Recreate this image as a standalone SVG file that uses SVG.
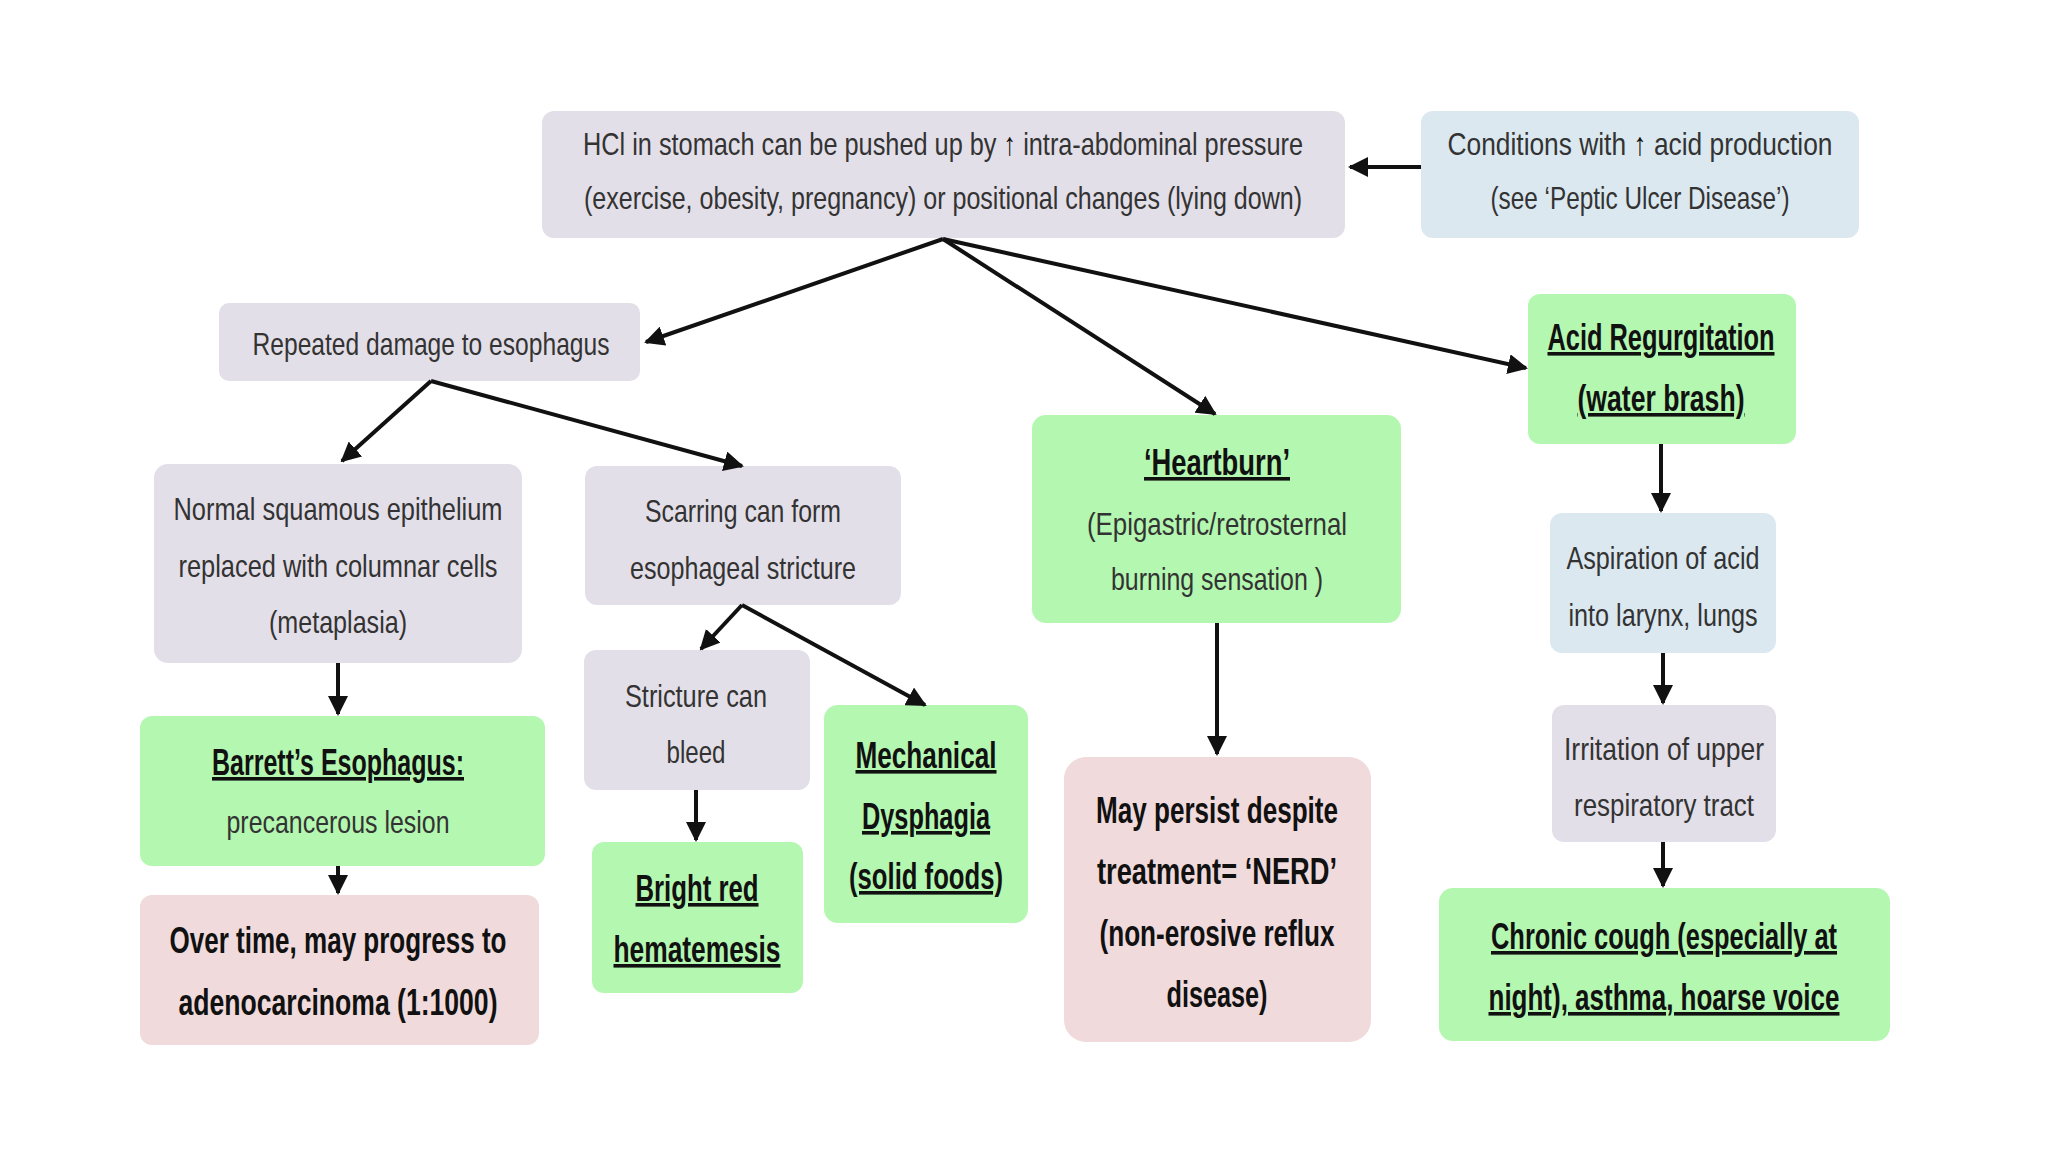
<svg xmlns="http://www.w3.org/2000/svg" width="2048" height="1152" viewBox="0 0 2048 1152">
<defs>
<marker id="ah" viewBox="0 0 10 10" refX="9" refY="5" markerWidth="5" markerHeight="5" orient="auto-start-reverse"><path d="M0,0 L10,5 L0,10 z" fill="#111"/></marker>
</defs>
<style>
.lav{fill:#e3dfe8}.blue{fill:#dbe8f0}.green{fill:#b4f7b0}.pink{fill:#f0dadb}
text{font-family:"Liberation Sans",Arial,sans-serif;text-anchor:middle;fill:#333;font-size:32px}
.b{font-weight:bold;fill:#111;font-size:36px}
.u{text-decoration:underline}
.c line{stroke:#111;stroke-width:4;marker-end:url(#ah)}
</style>
<rect width="2048" height="1152" fill="#fff"/>
<g id="hcl"><rect class="lav" x="542" y="111" width="803" height="127" rx="12"/>
<text x="943" y="155" textLength="720" lengthAdjust="spacingAndGlyphs">HCl in stomach can be pushed up by <tspan font-weight="bold" fill="#111">↑</tspan> intra-abdominal pressure</text>
<text x="943" y="209" textLength="718" lengthAdjust="spacingAndGlyphs">(exercise, obesity, pregnancy) or positional changes (lying down)</text></g>
<g id="cond"><rect class="blue" x="1421" y="111" width="438" height="127" rx="12"/>
<text x="1640" y="155" textLength="385" lengthAdjust="spacingAndGlyphs">Conditions with <tspan font-weight="bold" fill="#111">↑</tspan> acid production</text>
<text x="1640" y="209" textLength="299" lengthAdjust="spacingAndGlyphs">(see ‘Peptic Ulcer Disease’)</text></g>
<g id="rep"><rect class="lav" x="219" y="303" width="421" height="78" rx="10"/>
<text x="431" y="355" textLength="357" lengthAdjust="spacingAndGlyphs">Repeated damage to esophagus</text></g>
<g id="acid"><rect class="green" x="1528" y="294" width="268" height="150" rx="12"/>
<text class="b u" x="1661" y="350" textLength="227" lengthAdjust="spacingAndGlyphs">Acid Regurgitation</text>
<text class="b u" x="1661" y="411" textLength="167" lengthAdjust="spacingAndGlyphs">(water brash)</text></g>
<g id="heart"><rect class="green" x="1032" y="415" width="369" height="208" rx="14"/>
<text class="b u" x="1217" y="475" textLength="146" lengthAdjust="spacingAndGlyphs">‘Heartburn’</text>
<text x="1217" y="535" textLength="260" lengthAdjust="spacingAndGlyphs">(Epigastric/retrosternal</text>
<text x="1217" y="590" textLength="212" lengthAdjust="spacingAndGlyphs">burning sensation )</text></g>
<g id="normal"><rect class="lav" x="154" y="464" width="368" height="199" rx="14"/>
<text x="338" y="520" textLength="329" lengthAdjust="spacingAndGlyphs">Normal squamous epithelium</text>
<text x="338" y="577" textLength="319" lengthAdjust="spacingAndGlyphs">replaced with columnar cells</text>
<text x="338" y="633" textLength="138" lengthAdjust="spacingAndGlyphs">(metaplasia)</text></g>
<g id="scar"><rect class="lav" x="585" y="466" width="316" height="139" rx="12"/>
<text x="743" y="522" textLength="196" lengthAdjust="spacingAndGlyphs">Scarring can form</text>
<text x="743" y="579" textLength="226" lengthAdjust="spacingAndGlyphs">esophageal stricture</text></g>
<g id="asp"><rect class="blue" x="1550" y="513" width="226" height="140" rx="12"/>
<text x="1663" y="569" textLength="193" lengthAdjust="spacingAndGlyphs">Aspiration of acid</text>
<text x="1663" y="626" textLength="189" lengthAdjust="spacingAndGlyphs">into larynx, lungs</text></g>
<g id="barrett"><rect class="green" x="140" y="716" width="405" height="150" rx="12"/>
<text class="b u" x="338" y="775" textLength="252" lengthAdjust="spacingAndGlyphs">Barrett’s Esophagus:</text>
<text x="338" y="833" textLength="223" lengthAdjust="spacingAndGlyphs">precancerous lesion</text></g>
<g id="bleed"><rect class="lav" x="584" y="650" width="226" height="140" rx="12"/>
<text x="696" y="707" textLength="142" lengthAdjust="spacingAndGlyphs">Stricture can</text>
<text x="696" y="763" textLength="59" lengthAdjust="spacingAndGlyphs">bleed</text></g>
<g id="mech"><rect class="green" x="824" y="705" width="204" height="218" rx="14"/>
<text class="b u" x="926" y="768" textLength="141" lengthAdjust="spacingAndGlyphs">Mechanical</text>
<text class="b u" x="926" y="829" textLength="128" lengthAdjust="spacingAndGlyphs">Dysphagia</text>
<text class="b u" x="926" y="889" textLength="154" lengthAdjust="spacingAndGlyphs">(solid foods)</text></g>
<g id="nerd"><rect class="pink" x="1064" y="757" width="307" height="285" rx="22"/>
<text class="b" x="1217" y="823" textLength="242" lengthAdjust="spacingAndGlyphs">May persist despite</text>
<text class="b" x="1217" y="884" textLength="240" lengthAdjust="spacingAndGlyphs">treatment=  ‘NERD’</text>
<text class="b" x="1217" y="946" textLength="235" lengthAdjust="spacingAndGlyphs">(non-erosive reflux</text>
<text class="b" x="1217" y="1007" textLength="101" lengthAdjust="spacingAndGlyphs">disease)</text></g>
<g id="irr"><rect class="lav" x="1552" y="705" width="224" height="137" rx="12"/>
<text x="1664" y="760" textLength="200" lengthAdjust="spacingAndGlyphs">Irritation of upper</text>
<text x="1664" y="816" textLength="180" lengthAdjust="spacingAndGlyphs">respiratory tract</text></g>
<g id="bright"><rect class="green" x="592" y="842" width="211" height="151" rx="12"/>
<text class="b u" x="697" y="901" textLength="123" lengthAdjust="spacingAndGlyphs">Bright red</text>
<text class="b u" x="697" y="962" textLength="167" lengthAdjust="spacingAndGlyphs">hematemesis</text></g>
<g id="over"><rect class="pink" x="140" y="895" width="399" height="150" rx="12"/>
<text class="b" x="338" y="953" textLength="337" lengthAdjust="spacingAndGlyphs">Over time, may progress to</text>
<text class="b" x="338" y="1015" textLength="319" lengthAdjust="spacingAndGlyphs">adenocarcinoma (1:1000)</text></g>
<g id="cough"><rect class="green" x="1439" y="888" width="451" height="153" rx="14"/>
<text class="b u" x="1664" y="949" textLength="346" lengthAdjust="spacingAndGlyphs">Chronic cough (especially at</text>
<text class="b u" x="1664" y="1010" textLength="351" lengthAdjust="spacingAndGlyphs">night), asthma, hoarse voice</text></g>
<g id="connectors" class="c">
<line x1="1421" y1="167" x2="1350" y2="167"/>
<line x1="943" y1="239" x2="646" y2="342"/>
<line x1="943" y1="239" x2="1215" y2="414"/>
<line x1="943" y1="239" x2="1526" y2="368"/>
<line x1="431" y1="381" x2="342" y2="461"/>
<line x1="431" y1="381" x2="742" y2="466"/>
<line x1="338" y1="663" x2="338" y2="714"/>
<line x1="338" y1="866" x2="338" y2="893"/>
<line x1="742" y1="605" x2="701" y2="649"/>
<line x1="742" y1="605" x2="925" y2="705"/>
<line x1="696" y1="790" x2="696" y2="840"/>
<line x1="1217" y1="623" x2="1217" y2="754"/>
<line x1="1661" y1="444" x2="1661" y2="511"/>
<line x1="1663" y1="653" x2="1663" y2="703"/>
<line x1="1663" y1="842" x2="1663" y2="886"/>
</g>
</svg>
